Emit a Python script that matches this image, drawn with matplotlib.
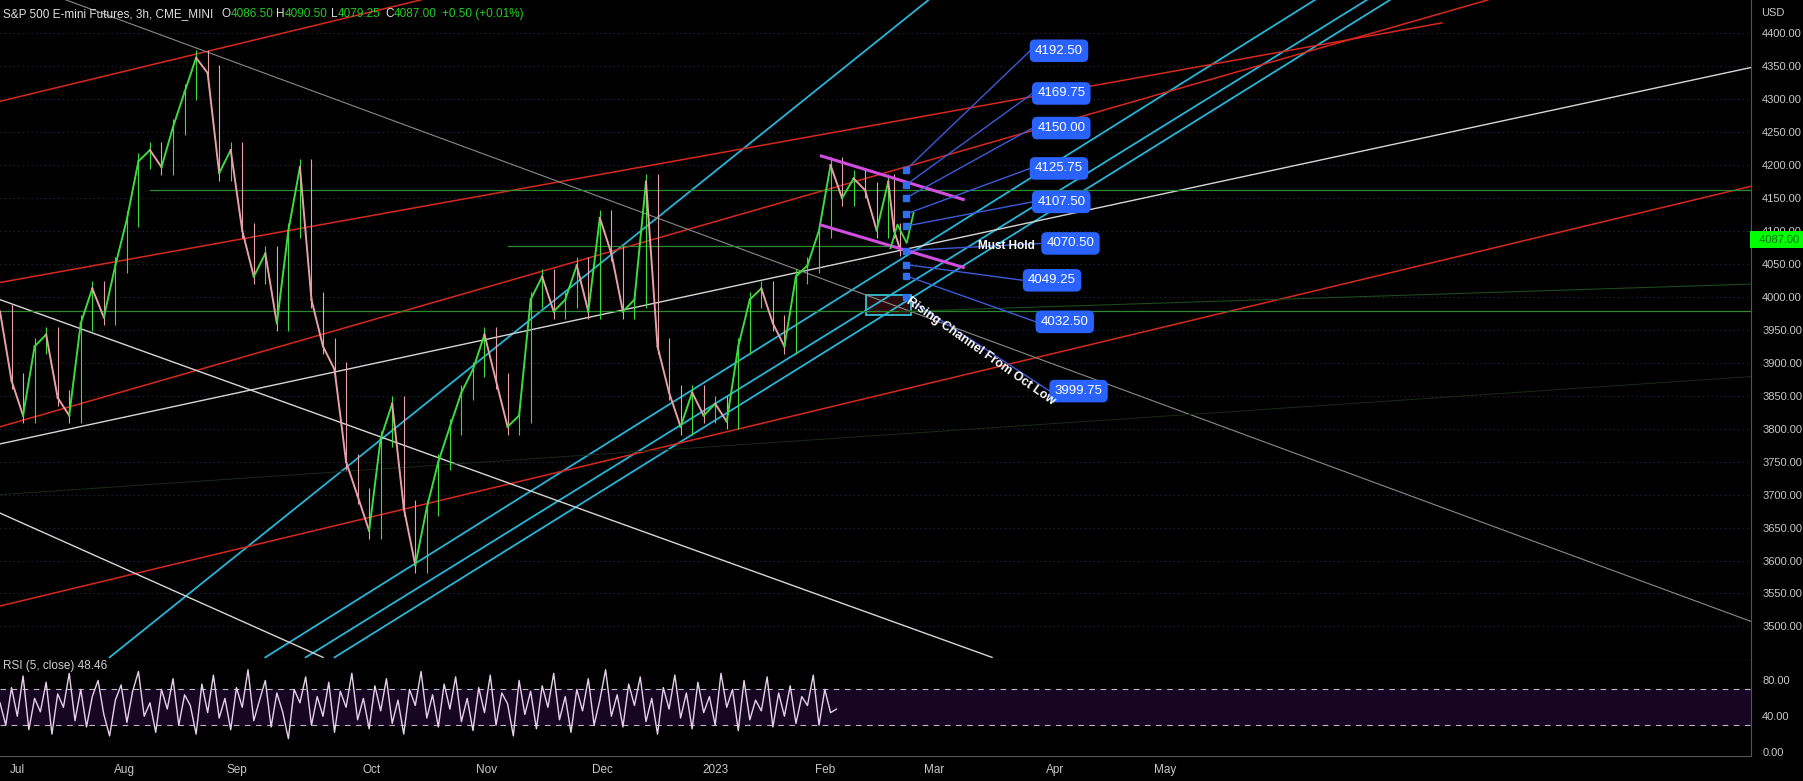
import matplotlib
matplotlib.use("Agg")
import matplotlib.pyplot as plt
from matplotlib.patches import Rectangle
import numpy as np

plt.rcParams['font.family'] = ['Liberation Sans', 'DejaVu Sans']

# ---------------- data ----------------
price_x = [0,10,20,30,40,50,60,70,80,90,100,110,120,130,140,150,160,170,180,190,200,210,220,230,240,250,260,270,280,290,
           300,310,320,330,340,350,360,370,380,390,400,410,420,430,440,450,460,470,480,490,500,510,520,530,540,550,560,570,580,590,
           600,610,620,630,640,650,660,670,680,690,700,710,720,730,740,750,760,770,775,780]
price_close = [3978,3873,3820,3925,3943,3847,3820,3960,4013,3969,4048,4118,4206,4223,4197,4258,4311,4363,4340,4188,4223,4101,4031,4066,3960,4101,4197,3996,3925,3890,
               3750,3698,3645,3785,3838,3680,3593,3680,3750,3803,3855,3890,3943,3873,3803,3820,3996,4031,3978,3996,4048,3978,4120,4066,3978,3996,4175,3925,3855,3803,
               3855,3820,3838,3811,3925,3996,4013,3960,3925,4031,4048,4101,4200,4150,4180,4162,4101,4175,4101,4074]

rsi_values = [55,30,72,40,85,25,60,45,78,20,65,50,88,35,70,28,62,80,42,18,58,75,33,68,90,40,55,22,70,48,
              82,30,64,52,20,76,44,86,38,60,25,72,50,92,35,58,80,28,66,45,15,70,55,84,30,62,40,78,22,68,
              50,88,36,60,26,74,46,82,32,58,20,70,52,90,38,64,28,76,48,84,34,60,24,72,44,86,30,66,54,18,
              80,42,68,26,74,50,88,36,62,22,70,46,82,30,58,92,40,64,28,76,52,84,34,60,20,72,48,86,38,66,
              26,78,44,62,30,88,50,70,24,80,36,58,46,84,28,66,40,74,32,62,52,86,30,70,44,48]

month_pos = [15,108,205,322,422,522,620,715,810,915,1010]
month_lab = ["Jul","Aug","Sep","Oct","Nov","Dec","2023","Feb","Mar","Apr","May"]

target_levels = [4192.50,4169.75,4150.00,4125.75,4107.50,4070.50,4049.25,4032.50,3999.75]
price_ticks = [4400,4350,4300,4250,4200,4150,4100,4050,4000,3950,3900,3850,3800,3750,3700,3650,3600,3550,3500]
last_price = 4087.00

# drawn trend lines (x1, p1, x2, p2)
cyan_lines = [(95,3453,805,4451),(230,3453,1140,4451),(265,3453,1185,4451),(290,3453,1205,4451)]
red_lines = [(0,4297,365,4451),(0,4022,1250,4416),(0,3803,1290,4451),(0,3531,1525,4171)]
white_lines = [(0,3777,1525,4351),(0,3996,860,3453),(0,3672,280,3453)]
gray_lines = [(57,4451,1525,3503)]
green_h = [(130,1525,4162),(440,780,4078),(0,1525,3978)]
magenta_lines = [(712,4214,835,4148),(712,4109,835,4045)]

# ---------------- layout ----------------
W, H = 1563, 677  # layout reference units
fig = plt.figure(figsize=(18.03, 7.81), dpi=100, facecolor="black")
def fr(x0, y0, x1, y1):
    return [x0 / W, 1 - y1 / H, (x1 - x0) / W, (y1 - y0) / H]

ax = fig.add_axes(fr(0, 0, 1518, 572))
rx = fig.add_axes(fr(0, 572, 1518, 655), sharex=ax)
for a in (ax, rx):
    a.set_facecolor("black")
    for s in a.spines.values():
        s.set_color("#555555")
    a.spines["top"].set_visible(False)
    a.spines["left"].set_visible(False)

def py(y):  # layout y -> price
    return 4400 - (y - 29) * 1.751

ax.set_xlim(0, 1518)
ax.set_ylim(py(572), py(0))
rx.set_ylim(-4, 103)

for p in price_ticks:
    ax.axhline(p, color="#2c2a45", lw=0.8, ls=(0, (1, 3)))

for x1, p1, x2, p2 in cyan_lines:
    ax.plot([x1, x2], [p1, p2], color="#26b6d9", lw=1.3)
for x1, p1, x2, p2 in red_lines:
    ax.plot([x1, x2], [p1, p2], color="#d8281e", lw=1.1)
for x1, p1, x2, p2 in white_lines:
    ax.plot([x1, x2], [p1, p2], color="#d6d6d6", lw=1.0)
for x1, p1, x2, p2 in gray_lines:
    ax.plot([x1, x2], [p1, p2], color="#8a8a8a", lw=0.8)
for x1, x2, p in green_h:
    ax.plot([x1, x2], [p, p], color="#2f8a2f", lw=0.9)
ax.plot([780, 1525], [3978, 4020], color="#1c4a1c", lw=0.8)
ax.plot([0, 1525], [3700, 3880], color="#1a2a1a", lw=0.7)

# price bars
for i in range(1, len(price_x)):
    up = price_close[i] >= price_close[i - 1]
    c = "#3ddc3d" if up else "#e8a0a8"
    ax.plot([price_x[i - 1], price_x[i]], [price_close[i - 1], price_close[i]], color=c, lw=1.4)
    ax.vlines(price_x[i], min(price_close[i-1], price_close[i]) - 12, max(price_close[i-1], price_close[i]) + 12, color=c, lw=0.8)

for x1, p1, x2, p2 in magenta_lines:
    ax.plot([x1, x2], [p1, p2], color="#d24ee0", lw=2.2)
ax.add_patch(Rectangle((751, py(273)), 39, py(256) - py(273), facecolor="#2a0a0a", edgecolor="#3ad0e0", lw=1.2))
ax.plot([772, 778, 786, 792], [4074, 4110, 4082, 4128], color="#3ddc3d", lw=1.3)

# targets
box_pos = [(918, 44), (920, 81), (920, 111), (918, 146), (920, 175), (928, 211), (912, 243), (923, 279), (935, 339)]
for lvl, (bx, by) in zip(target_levels, box_pos):
    ax.plot([785, bx - 25], [lvl, py(by)], color="#3d5bd8", lw=1.0)
    ax.plot(785, lvl, "s", color="#2e6ff2", ms=4)
    ax.text(bx, py(by), f"{lvl:.2f}", color="white", fontsize=9.5, ha="center", va="center",
            bbox=dict(boxstyle="round,pad=0.4", fc="#2962ff", ec="none"))
ax.text(848, py(213), "Must Hold", color="white", fontsize=8.5, fontweight="bold", va="center")
ax.text(790, py(256), "Rising Channel From Oct Low", color="white", fontsize=9, fontweight="bold",
        rotation=-35, rotation_mode="anchor", ha="left", va="top")

# right price axis
ax.yaxis.tick_right()
ax.set_yticks(price_ticks)
ax.set_yticklabels([f"{p:.2f}" for p in price_ticks])
ax.tick_params(axis="y", colors="#c8c8c8", labelsize=8, length=0, pad=8)
ax.tick_params(axis="x", length=0, labelbottom=False)
ax.text(1.006, py(11), "USD", transform=ax.get_yaxis_transform(), color="#c8c8c8", fontsize=8, va="center")
ax.text(1.001, last_price, "  4087.00 ", transform=ax.get_yaxis_transform(), color="#0a6a0a",
        fontsize=8, va="center", ha="left", bbox=dict(boxstyle="square,pad=0.3", fc="#00ff00", ec="none"))

# RSI
rsi_x = [i * 5 for i in range(len(rsi_values))]
rx.axhspan(30, 70, color="#160624")
rx.axhline(70, color="#bbbbbb", lw=0.8, ls=(0, (5, 5)))
rx.axhline(30, color="#bbbbbb", lw=0.8, ls=(0, (5, 5)))
rx.plot(rsi_x, rsi_values, color="#e6d0ec", lw=1.0)
rx.yaxis.tick_right()
rx.set_yticks([80, 40, 0])
rx.set_yticklabels(["80.00", "40.00", "0.00"])
rx.tick_params(axis="y", colors="#c8c8c8", labelsize=8, length=0, pad=8)
rx.set_xticks(month_pos)
rx.set_xticklabels(month_lab)
rx.tick_params(axis="x", colors="#c8c8c8", labelsize=8.5, length=0, pad=6)
rx.text(3, 96, "RSI (5, close) 48.46", color="#d0d0d0", fontsize=8.5, va="center")

# header
hy = 1 - 14 / 781
def ht(xp, s, c):
    fig.text(xp / 1803, hy, s, color=c, fontsize=8.5, va="center")
ht(3, "S&P 500 E-mini Futures, 3h, CME_MINI", "#e0e0e0")
ht(222, "O", "#e0e0e0"); ht(231, "4086.50", "#22cc22")
ht(276, "H", "#e0e0e0"); ht(285, "4090.50", "#22cc22")
ht(331, "L", "#e0e0e0"); ht(338, "4079.25", "#22cc22")
ht(385, "C", "#e0e0e0"); ht(394, "4087.00", "#22cc22")
ht(442, "+0.50 (+0.01%)", "#22cc22")

fig.savefig("out.png", dpi=100, facecolor="black")
